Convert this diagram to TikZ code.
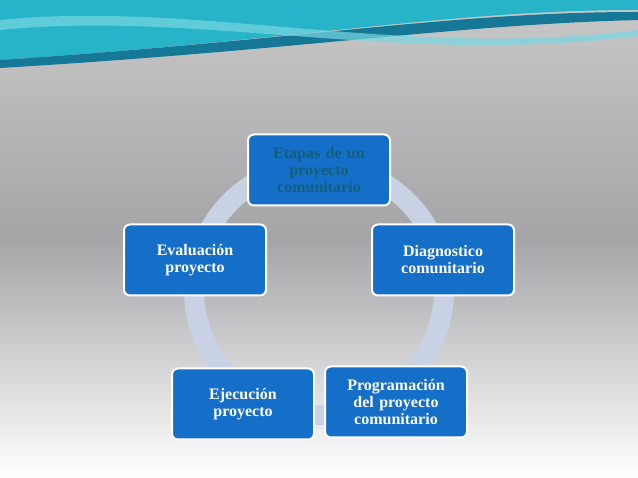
\documentclass[tikz,border=0pt]{standalone}
\usepackage{fontspec}
\setmainfont{Liberation Serif}
\definecolor{boxblue}{RGB}{21,110,200}
\definecolor{teal1}{RGB}{40,180,200}
\definecolor{teal2}{RGB}{20,120,150}
\definecolor{teal3}{RGB}{120,215,225}
\definecolor{ring}{RGB}{200,210,228}
\definecolor{topgray}{RGB}{200,200,200}
\definecolor{midgray}{RGB}{165,165,168}
\definecolor{darktext}{RGB}{20,95,120}
\begin{document}
\begin{tikzpicture}[x=1pt,y=-1pt,
  stage/.style={draw=white,line width=2pt,rounded corners=6pt,fill=boxblue,
    minimum width=142pt,minimum height=71pt,text width=130pt,align=center,text=white,font=\fontsize{16}{17}\selectfont\bfseries}]
\useasboundingbox (0,0) rectangle (638,478);
\shade[top color=topgray,bottom color=white,middle color=midgray] (0,0) rectangle (638,478);
\fill[teal1] (0,0) -- (638,0) -- (638,10) .. controls (450,10) and (300,40) .. (0,60) -- cycle;
\fill[teal2] (0,60) .. controls (300,40) and (450,12) .. (638,12) -- (638,20) .. controls (450,25) and (300,50) .. (0,68) -- cycle;
\fill[teal3,opacity=.7] (0,20) .. controls (200,0) and (400,60) .. (638,30) -- (638,36) .. controls (400,66) and (200,10) .. (0,30) -- cycle;
\draw[ring,line width=20pt] (319,290) circle (125);
\node[stage,text=darktext] (a) at (319,170) {Etapas de un\\proyecto\\comunitario};
\node[stage] (b) at (443,260) {Diagnostico\\comunitario};
\node[stage] (c) at (396,402) {Programación\\del proyecto\\comunitario};
\node[stage] (d) at (243,404) {Ejecución\\proyecto};
\node[stage] (e) at (195,260) {Evaluación\\proyecto};
\end{tikzpicture}
\end{document}
